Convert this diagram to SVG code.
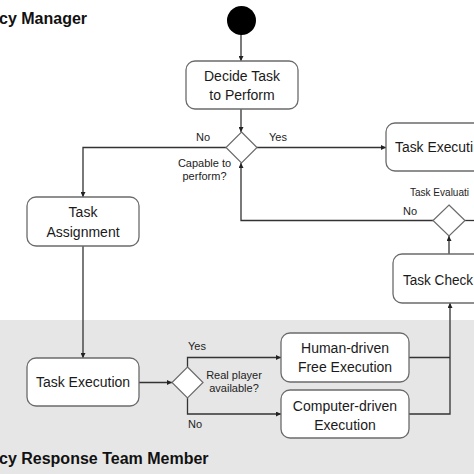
<svg xmlns="http://www.w3.org/2000/svg" width="474" height="474" viewBox="0 0 474 474">
<defs>
<marker id="ah" viewBox="0 0 8 8" refX="8" refY="4" markerWidth="5" markerHeight="5" orient="auto" markerUnits="userSpaceOnUse">
<path d="M0,0 L8,4 L0,8 z" fill="#222"/>
</marker>
<style>
.box{fill:#fff;stroke:#6b6b6b;stroke-width:1.3}
.dia{fill:#fff;stroke:#6b6b6b;stroke-width:1.2}
.t{font-family:"Liberation Sans",Arial,sans-serif;font-size:14px;fill:#1a1a1a;text-anchor:middle}
.tl{font-family:"Liberation Sans",Arial,sans-serif;font-size:14px;fill:#1a1a1a}
.s{font-family:"Liberation Sans",Arial,sans-serif;font-size:11px;fill:#222}
.h{font-family:"Liberation Sans",Arial,sans-serif;font-size:16px;font-weight:bold;fill:#111}
.c{fill:none;stroke:#333;stroke-width:1.3}
</style>
</defs>
<rect x="0" y="0" width="474" height="474" fill="#fff"/>
<rect x="0" y="320" width="474" height="154" fill="#e6e6e6"/>
<text class="h" x="-1" y="24">cy Manager</text>
<text class="h" x="-1" y="464">cy Response Team Member</text>

<g id="connectors">
<path class="c" d="M241,34 V61" marker-end="url(#ah)"/>
<path class="c" d="M241,109 V132" marker-end="url(#ah)"/>
<path class="c" d="M257,147.5 H386" marker-end="url(#ah)"/>
<path class="c" d="M226,147.5 H83 V197" marker-end="url(#ah)"/>
<path class="c" d="M433,220.5 H241 V163" marker-end="url(#ah)"/>
<path class="c" d="M465,220.5 H474"/>
<path class="c" d="M449,254 V236" marker-end="url(#ah)"/>
<path class="c" d="M83,246 V358" marker-end="url(#ah)"/>
<path class="c" d="M139,382.5 H172" marker-end="url(#ah)"/>
<path class="c" d="M187.5,367 V357.5 H281" marker-end="url(#ah)"/>
<path class="c" d="M187.5,398 V414 H281" marker-end="url(#ah)"/>
<path class="c" d="M409,357.5 H450"/>
<path class="c" d="M409,414 H450 V303" marker-end="url(#ah)"/>
<text class="s" x="196" y="141">No</text>
<text class="s" x="269" y="141">Yes</text>
<text class="s" x="410" y="196" textLength="59" lengthAdjust="spacingAndGlyphs">Task Evaluati</text>
<text class="s" x="403" y="215">No</text>
<text class="s" x="188" y="350">Yes</text>
<text class="s" x="188" y="428">No</text>
</g>

<g id="start"><circle cx="241.5" cy="20.5" r="14.5" fill="#000"/></g>

<g id="decide">
<rect class="box" x="186" y="61" width="112" height="48" rx="9"/>
<text class="t" x="242" y="81">Decide Task</text>
<text class="t" x="242" y="100">to Perform</text>
</g>

<g id="capable">
<path class="dia" d="M241.5,132 L257,147.5 L241.5,163 L226,147.5 z"/>
<text class="s" x="204.5" y="167" text-anchor="middle">Capable to</text>
<text class="s" x="204.5" y="180" text-anchor="middle">perform?</text>
</g>

<g id="task-execution-manager">
<rect class="box" x="386" y="123" width="110" height="48" rx="9"/>
<text class="tl" x="395" y="152" textLength="78" lengthAdjust="spacingAndGlyphs">Task Executi</text>
</g>

<g id="evaluation">
<path class="dia" d="M449,205 L465,220.5 L449,236 L433,220.5 z"/>
</g>

<g id="task-checking">
<rect class="box" x="393" y="254" width="110" height="49" rx="9"/>
<text class="tl" x="403" y="285" textLength="70" lengthAdjust="spacingAndGlyphs">Task Check</text>
</g>

<g id="task-assignment">
<rect class="box" x="27" y="197" width="112" height="49" rx="9"/>
<text class="t" x="83" y="217">Task</text>
<text class="t" x="83" y="237">Assignment</text>
</g>

<g id="task-execution">
<rect class="box" x="27" y="358" width="112" height="48" rx="9"/>
<text class="t" x="83" y="387">Task Execution</text>
</g>

<g id="real-player">
<path class="dia" d="M187.5,367 L203,382.5 L187.5,398 L172,382.5 z"/>
<text class="s" x="234" y="379" text-anchor="middle">Real player</text>
<text class="s" x="234" y="392" text-anchor="middle">available?</text>
</g>

<g id="human-driven">
<rect class="box" x="281" y="333" width="128" height="49" rx="9"/>
<text class="t" x="345" y="353">Human-driven</text>
<text class="t" x="345" y="372">Free Execution</text>
</g>

<g id="computer-driven">
<rect class="box" x="281" y="390" width="128" height="48" rx="9"/>
<text class="t" x="345" y="411">Computer-driven</text>
<text class="t" x="345" y="430">Execution</text>
</g>
</svg>
